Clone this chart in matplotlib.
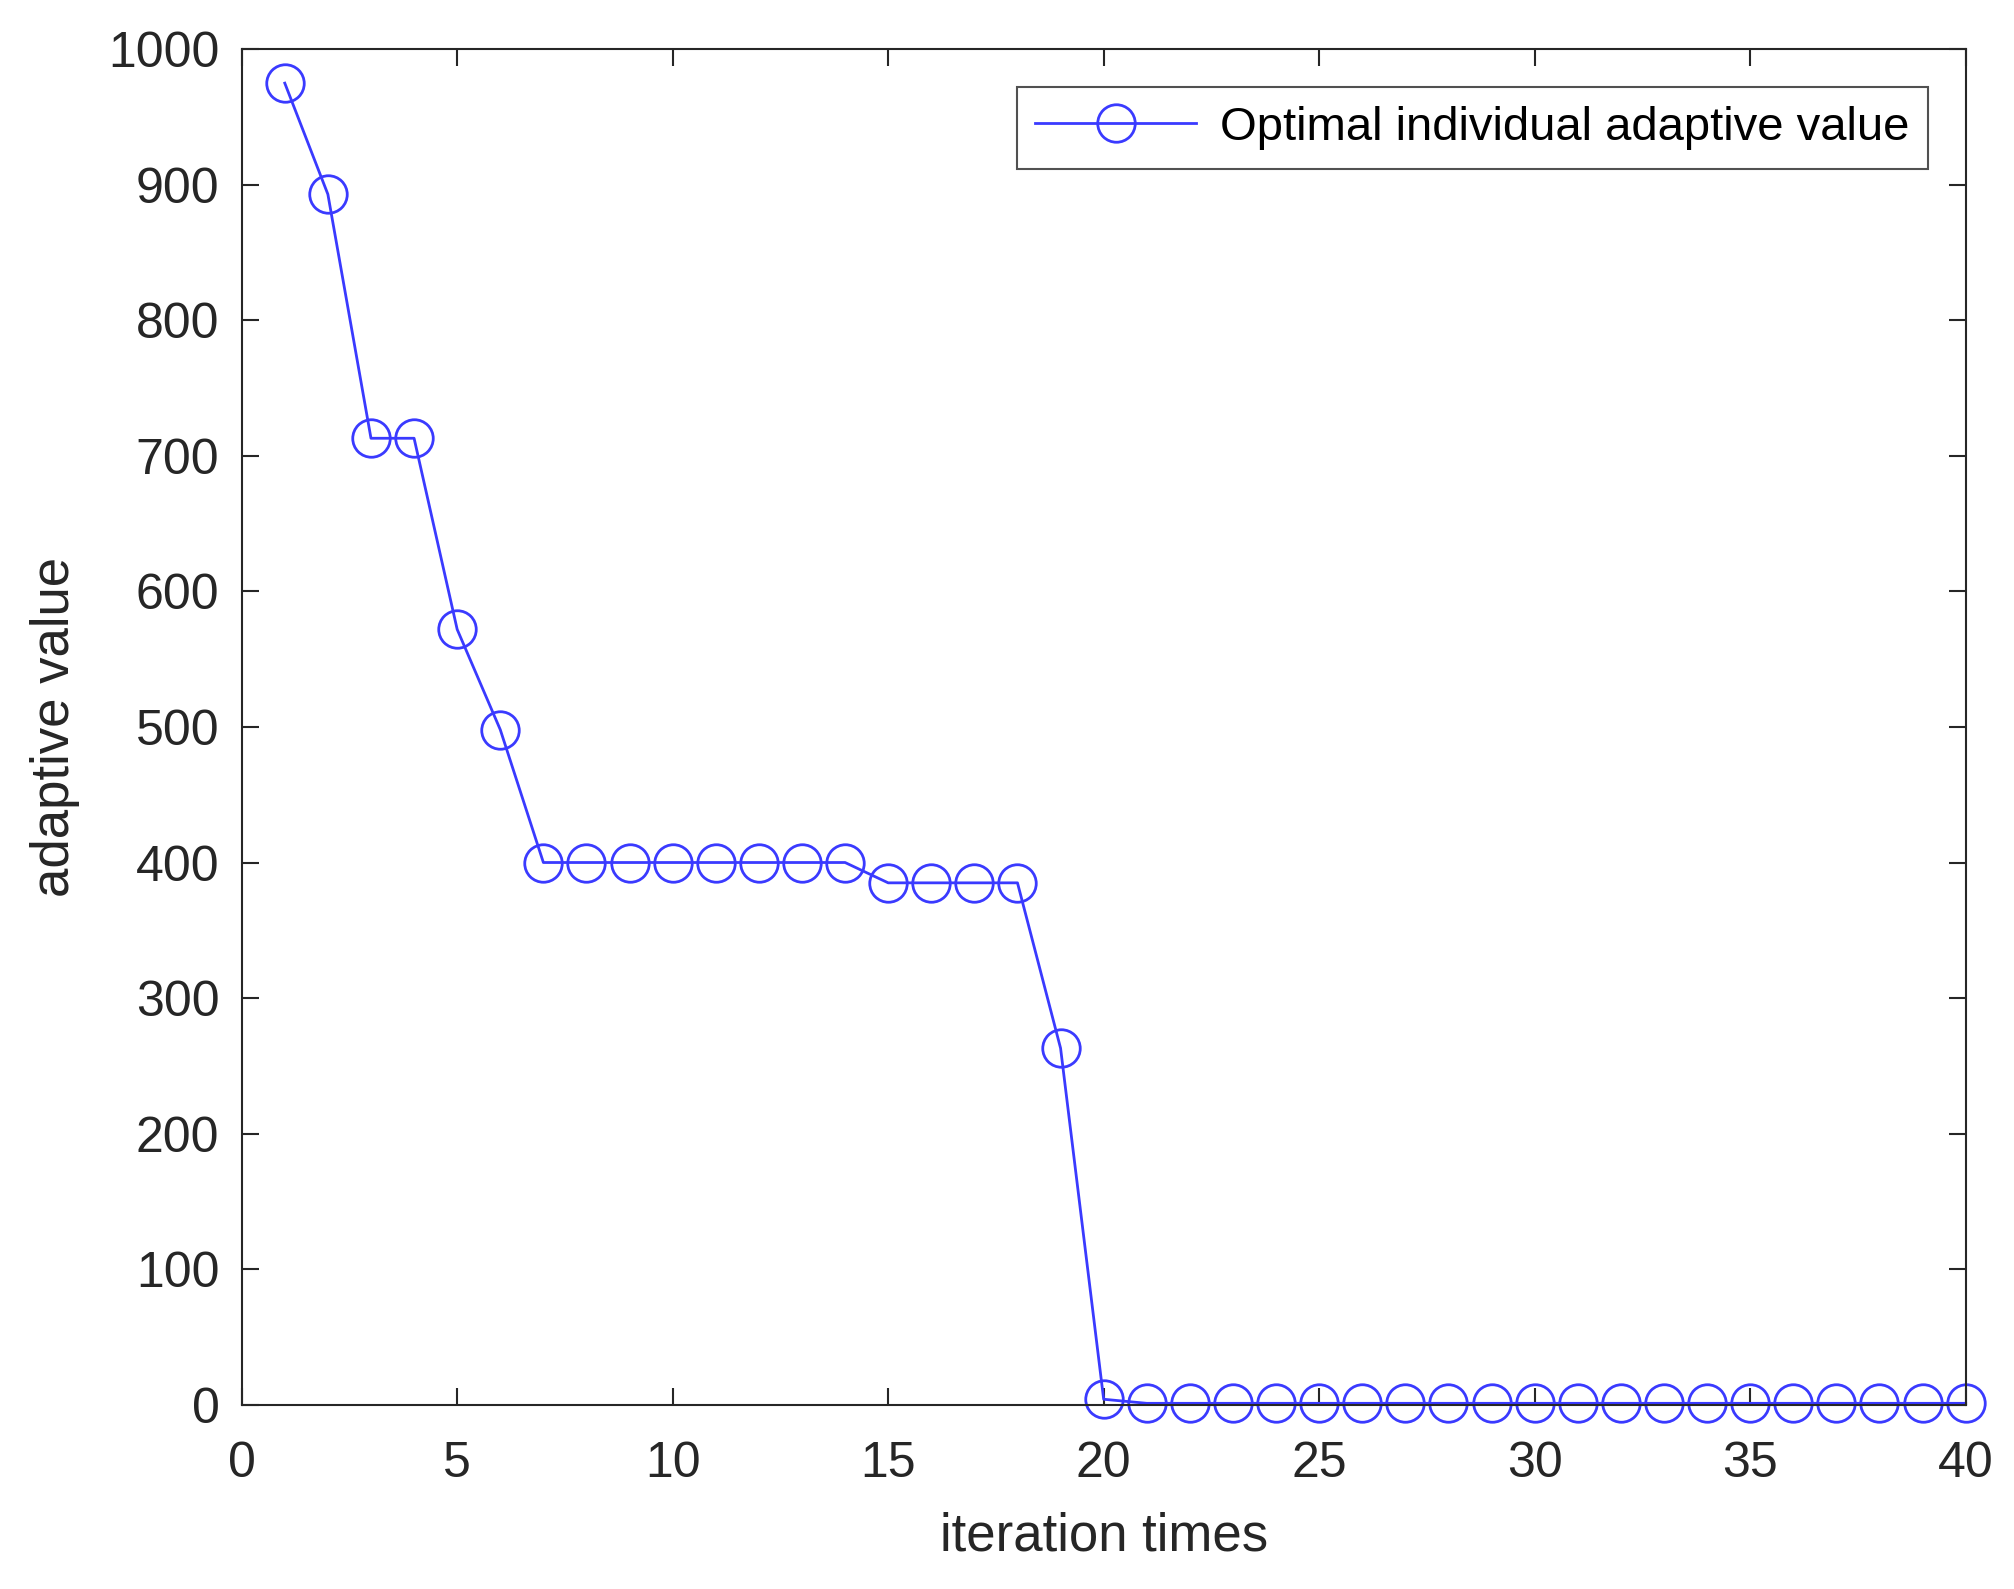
import matplotlib
matplotlib.use("Agg")
import matplotlib.pyplot as plt

# iteration number and best fitness per iteration
iterations = list(range(1, 41))
adaptive_value = [975, 893, 713, 713, 572, 498, 400, 400, 400, 400,
                  400, 400, 400, 400, 385, 385, 385, 385, 263, 4,
                  1, 1, 1, 1, 1, 1, 1, 1, 1, 1,
                  1, 1, 1, 1, 1, 1, 1, 1, 1, 1]
x_ticks = [0, 5, 10, 15, 20, 25, 30, 35, 40]
y_ticks = [0, 100, 200, 300, 400, 500, 600, 700, 800, 900, 1000]

plt.rcParams['font.family'] = ['Liberation Sans', 'DejaVu Sans']

fig = plt.figure(figsize=(20.14, 15.89), dpi=100)
ax = fig.add_axes([0.12, 0.116, 0.856, 0.853])

ax.plot(iterations, adaptive_value, color='#3a3aff', linewidth=2.0,
        marker='o', markersize=27, markerfacecolor='none',
        markeredgecolor='#3a3aff', markeredgewidth=2.0,
        label='Optimal individual adaptive value', clip_on=False)

ax.set_xlim(0, 40)
ax.set_ylim(0, 1000)
ax.set_xticks(x_ticks)
ax.set_yticks(y_ticks)

grey = '#262626'
for s in ax.spines.values():
    s.set_color(grey)
    s.set_linewidth(1.5)
ax.tick_params(direction='in', length=12, width=1.5, colors=grey,
               labelsize=36, top=True, right=True)
ax.tick_params(axis='x', pad=26)
ax.tick_params(axis='y', pad=16)
for lab in ax.get_xticklabels() + ax.get_yticklabels():
    lab.set_color(grey)

ax.set_xlabel('iteration times', fontsize=38, color=grey, labelpad=18)
ax.set_ylabel('adaptive value', fontsize=38, color=grey, labelpad=20)

leg = ax.legend(loc='upper right', fontsize=34, fancybox=False,
                borderaxespad=0.8, handlelength=3.4, borderpad=0.4,
                handletextpad=0.5)
leg.get_frame().set_edgecolor(grey)
leg.get_frame().set_linewidth(1.5)

fig.savefig('out.png', dpi=100)
